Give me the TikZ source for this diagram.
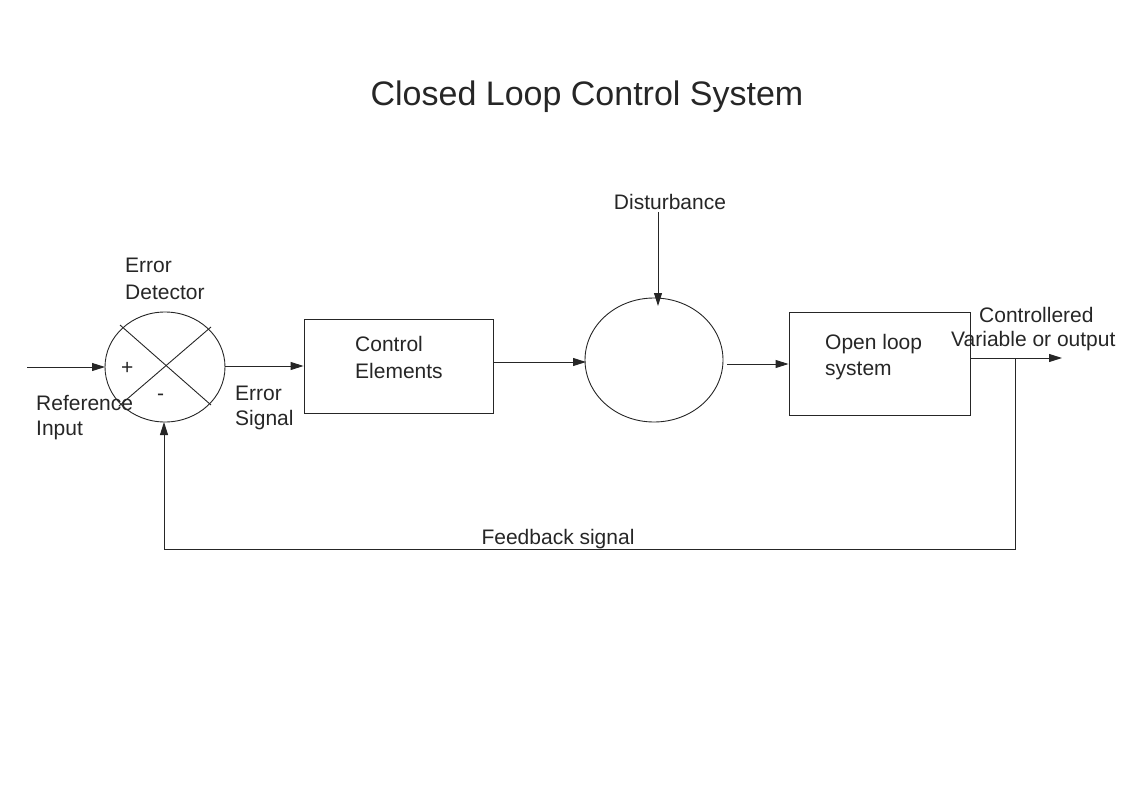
\documentclass[tikz,border=0pt]{standalone}
\usepackage{fontspec}
\setmainfont{Liberation Sans}
\usetikzlibrary{arrows.meta,shapes.geometric}
\begin{document}
\begin{tikzpicture}[x=1pt,y=-1pt,
  lbl/.style={font=\fontsize{21}{25}\selectfont,text=black!85,inner sep=0,anchor=west},
  ln/.style={line width=0.9pt,black!85},
  arr/.style={ln,-{Triangle[length=13pt,width=8pt]}}]
\useasboundingbox (0,0) rectangle (1123,794);
\clip (0,0) rectangle (1123,794);
\node[font=\fontsize{34}{40}\selectfont,text=black!85] (title) at (587,97) {Closed Loop Control System};
% error detector
\draw[ln] (165,367) ellipse [x radius=60,y radius=55];
\coordinate (ed) at (165,367);
\draw[ln] (120,325) -- (211,405);
\draw[ln] (211,327) -- (119,406);
\node[lbl] (plus) at (121,368) {+};
\node[lbl] (minus) at (157,397) {-};
\coordinate (in) at (27,367);
\coordinate (edw) at (105,367);
\draw[arr] (in) -- (edw);
\node[lbl] (ref1) at (36,403) {Reference};
\node[lbl] (ref2) at (36,430) {Input};
\node[lbl] (det1) at (125,265) {Error};
\node[lbl] (det2) at (125,292) {Detector};
% control elements
\node[draw,ln,minimum width=189pt,minimum height=94pt,inner sep=0] (ce) at (398.5,366) {};
\node[lbl] (ce1) at (355,344) {Control};
\node[lbl] (ce2) at (355,371) {Elements};
\coordinate (ede) at (225,366);
\draw[arr] (ede) -- (ce.west |- ede);
\node[lbl] (es1) at (235,393) {Error};
\node[lbl] (es2) at (235,420) {Signal};
% disturbance circle
\node[draw,ln,ellipse,minimum width=138pt,minimum height=124pt,inner sep=0] (dc) at (654,360) {};
\coordinate (cee) at (493,362);
\coordinate (dcw) at (586,362);
\draw[arr] (cee) -- (dcw);
\node[lbl,anchor=center] (dist) at (670,202) {Disturbance};
\coordinate (dtop) at (658,212);
\coordinate (dcn) at (658,306);
\draw[arr] (dtop) -- (dcn);
% open loop
\node[draw,ln,minimum width=181pt,minimum height=103pt,inner sep=0] (ol) at (879.5,363.5) {};
\node[lbl] (ol1) at (825,344) {Open loop};
\node[lbl] (ol2) at (825,371) {system};
\coordinate (dce) at (727,364);
\draw[arr] (dce) -- (ol.west |- dce);
% output
\coordinate (ole) at (970,358);
\coordinate (out) at (1062,358);
\draw[arr] (ole) -- (out);
\node[lbl] (o1) at (979,315) {Controllered};
\node[lbl] (o2) at (951,341) {Variable or output};
% feedback
\coordinate (fb1) at (1015,358);
\coordinate (fb2) at (1015,549);
\coordinate (fb3) at (164,549);
\coordinate (eds) at (164,422);
\draw[arr] (fb1) -- (fb2) -- (fb3) -- (eds);
\node[lbl,anchor=center] (fbl) at (558,539) {Feedback signal};
\end{tikzpicture}
\end{document}
